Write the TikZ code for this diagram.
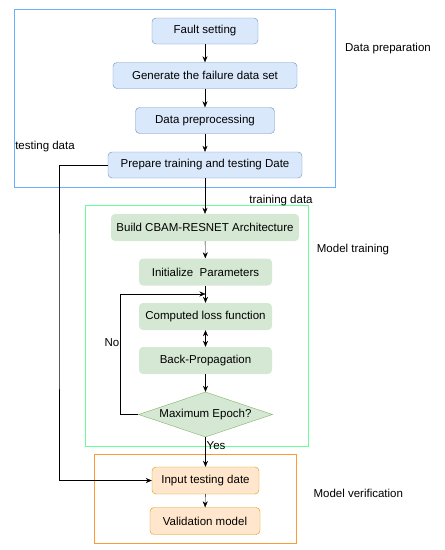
\documentclass[tikz,border=0pt]{standalone}
\usepackage{fontspec}
\setmainfont{Liberation Sans}
\usetikzlibrary{shapes.geometric,arrows.meta}
\definecolor{bluefill}{HTML}{DAE8FC}
\definecolor{blueline}{HTML}{6C8EBF}
\definecolor{greenfill}{HTML}{D5E8D4}
\definecolor{greenline}{HTML}{82B366}
\definecolor{orangefill}{HTML}{FFE6CC}
\definecolor{orangeline}{HTML}{D79B00}
\definecolor{bluebox}{HTML}{66B2FF}
\definecolor{greenbox}{HTML}{66FF99}
\definecolor{orangebox}{HTML}{FF9933}
\begin{document}
\begin{tikzpicture}[x=1pt,y=-1pt,font=\fontsize{11.5}{13}\selectfont,
    prepbox/.style={draw=blueline,fill=bluefill,rounded corners=4pt,inner sep=0pt,minimum height=26pt},
    trainbox/.style={fill=greenfill,rounded corners=4pt,inner sep=0pt,minimum height=27pt},
    verbox/.style={draw=orangeline,fill=orangefill,rounded corners=4pt,inner sep=0pt,minimum height=27pt},
    flow/.style={-{Stealth[length=6pt,width=5pt]},black}]
        \useasboundingbox(0,0)rectangle(445,550);
        \draw[bluebox,line width=0.8pt](14,9)rectangle(335,187);
        \draw[greenbox,line width=0.8pt](85,205)rectangle(308,446);
        \draw[orangebox,line width=0.8pt](94,454)rectangle(296,543);
        % data preparation
        \node[prepbox,minimum width=106pt](fault)at(205,31){Fault setting};
        \node[prepbox,minimum width=184pt](gen)at(205,75.5){Generate the failure data set};
        \node[prepbox,minimum width=139pt](pre)at(205,120.5){Data preprocessing};
        \node[prepbox,minimum width=194pt](prep)at(205,165){Prepare training and testing Date};
        % model training
        \node[trainbox,minimum width=188pt](build)at(205,227.5){Build CBAM-RESNET Architecture};
        \node[trainbox,minimum width=133pt](init)at(205.5,272){Initialize\ \ Parameters};
        \node[trainbox,minimum width=133pt](loss)at(205.5,316.5){Computed loss function};
        \node[trainbox,minimum width=133pt](back)at(205.5,360.5){Back-Propagation};
        \node[diamond,draw=greenline,fill=greenfill,inner sep=0pt,shape aspect=3,minimum width=134pt,minimum height=45pt](max)at(205.5,414.5){Maximum Epoch?};
        % model verification
        \node[verbox,minimum width=107pt](input)at(205.5,480.5){Input testing date};
        \node[verbox,minimum width=110pt](valid)at(205,521){Validation model};
        % labels
        \node(lprep)at(388,49){Data preparation};
        \node(ltest)at(45,147){testing data};
        \node(ltrain)at(281,201){training data};
        \node(lmodel)at(353,250){Model training};
        \node(lno)at(112,343){No};
        \node[anchor=west](lver)at(310,493){Model verification};
        \coordinate(j)at(205.5,294);
        \draw[flow](fault)--(gen);
        \draw[flow](gen)--(pre);
        \draw[flow](pre)--(prep);
        \draw[flow](prep)--(build);
        \draw[flow](build)--(init);
        \draw[flow](init)--(loss);
        \draw[{Stealth[length=6pt,width=5pt]}-{Stealth[length=6pt,width=5pt]}](loss)--(back);
        \draw[flow](back)--(max);
        \draw[flow](max)--node[pos=0.3,right,inner sep=1pt](lyes){Yes}(input);
        \draw[flow](input)--(valid);
        \draw[flow](max.west)--++(-18,0)|-(j);
        \draw[flow](prep.west)-|(59,300)|-(input.west);
    \end{tikzpicture}
\end{document}
